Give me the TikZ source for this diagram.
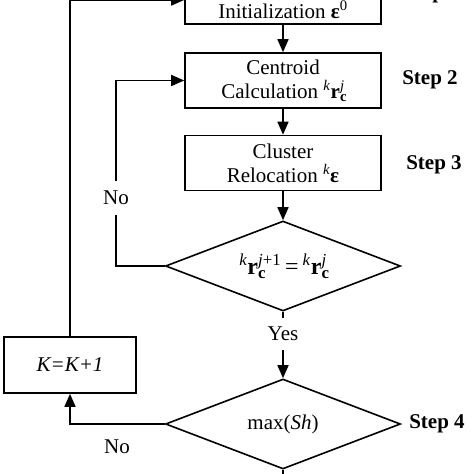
\documentclass[tikz,border=0pt]{standalone}
\usepackage{fontspec}
\setmainfont{Liberation Serif}
\usetikzlibrary{arrows.meta,shapes.geometric}
\newcommand\krc[1]{\textsuperscript{\textit{k}}\textbf{r}\rlap{\textsubscript{\textbf{c}}}\textsuperscript{#1}}
\begin{document}
\begin{tikzpicture}[x=1pt,y=-1pt,
  every node/.style={font=\fontsize{21}{24}\selectfont},
  box/.style={draw,line width=1.6pt,minimum width=196pt,minimum height=55pt,inner sep=2pt,align=center},
  dia/.style={draw,diamond,aspect=2.6,line width=1.6pt,minimum width=235pt,minimum height=90pt,inner sep=0pt},
  steplbl/.style={font=\fontsize{21}{24}\selectfont\bfseries},
  conn/.style={line width=1.6pt},
  arr/.style={conn,-{Triangle[width=11pt,length=13pt]}}]
\useasboundingbox (0,0) rectangle (474,474);
\clip (0,0) rectangle (474,474);
\fill[white] (0,0) rectangle (474,474);
\node[draw,line width=1.6pt,minimum width=196pt,text height=40pt,text depth=5pt,inner ysep=1pt,anchor=south] (init) at (283,25) {Initialization \textbf{ε}\textsuperscript{0}};
\node[box] (cent) at (283,80.5) {Centroid\\Calculation \krc{\textit{j}}};
\node[box] (clus) at (283,163) {Cluster\\Relocation \textsuperscript{\textit{k}}\textbf{ε}};
\node[dia,font=\fontsize{24}{26}\selectfont] (d1) at (283,266) {\krc{\textit{j}+1}\,=\,\krc{\textit{j}}};
\node[dia] (d2) at (283,424) {max(\textit{Sh})};
\node[box,minimum width=132pt,minimum height=56pt] (kk) at (70,365) {\textit{K=K+1}};
\node[inner xsep=2pt,inner ysep=9pt] (yes) at (283,334) {Yes};
\node[inner xsep=2pt,inner ysep=10pt] (no1) at (116,198) {No};
\node (no2) at (117,447) {No};
\node[steplbl] (s1) at (432,-6) {Step 1};
\node[steplbl] (s2) at (430,80) {Step 2};
\node[steplbl] (s3) at (434,165) {Step 3};
\node[steplbl] (s4) at (437,424) {Step 4};
\coordinate (top) at (70,0);
\coordinate (bot) at (283,490);
\draw[arr] (init.south) -- (cent.north);
\draw[arr] (cent.south) -- (clus.north);
\draw[arr] (clus.south) -- (d1.north);
\draw[conn] (d1.south) -- (yes.north);
\draw[arr] (yes.south) -- (d2.north);
\draw[conn] (d1.west) -| (no1.south);
\draw[arr] (no1.north) |- (cent.west);
\draw[arr] (d2.west) -| (kk.south);
\draw[arr] (kk.north) -- (top) -- (init.west |- top);
\draw[conn] (d2.south) -- (bot);
\end{tikzpicture}
\end{document}
